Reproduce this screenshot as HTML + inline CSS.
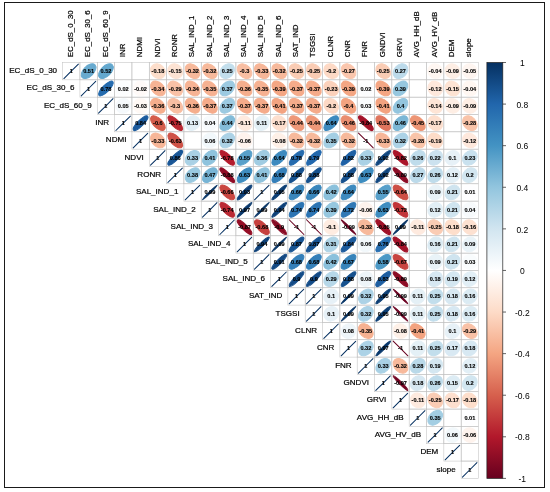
<!DOCTYPE html>
<html><head><meta charset="utf-8"><title>Correlation plot</title>
<style>html,body{margin:0;padding:0;background:#fff}svg{display:block}svg text{font-family:"Liberation Sans",sans-serif}</style></head>
<body>
<svg width="550" height="492" viewBox="0 0 550 492">
<rect x="0" y="0" width="550" height="492" fill="#fff"/>
<rect x="4.5" y="2.5" width="540" height="485" fill="none" stroke="#1a1a1a" stroke-width="1"/>
<g fill="none" stroke="#c2c2c2" stroke-width="0.55"><rect x="62.60" y="62.50" width="17.33" height="17.33"/><rect x="79.93" y="62.50" width="17.33" height="17.33"/><rect x="97.26" y="62.50" width="17.33" height="17.33"/><rect x="114.59" y="62.50" width="17.33" height="17.33"/><rect x="131.92" y="62.50" width="17.33" height="17.33"/><rect x="149.25" y="62.50" width="17.33" height="17.33"/><rect x="166.57" y="62.50" width="17.33" height="17.33"/><rect x="183.90" y="62.50" width="17.33" height="17.33"/><rect x="201.23" y="62.50" width="17.33" height="17.33"/><rect x="218.56" y="62.50" width="17.33" height="17.33"/><rect x="235.89" y="62.50" width="17.33" height="17.33"/><rect x="253.22" y="62.50" width="17.33" height="17.33"/><rect x="270.55" y="62.50" width="17.33" height="17.33"/><rect x="287.88" y="62.50" width="17.33" height="17.33"/><rect x="305.21" y="62.50" width="17.33" height="17.33"/><rect x="322.54" y="62.50" width="17.33" height="17.33"/><rect x="339.87" y="62.50" width="17.33" height="17.33"/><rect x="357.20" y="62.50" width="17.33" height="17.33"/><rect x="374.52" y="62.50" width="17.33" height="17.33"/><rect x="391.85" y="62.50" width="17.33" height="17.33"/><rect x="409.18" y="62.50" width="17.33" height="17.33"/><rect x="426.51" y="62.50" width="17.33" height="17.33"/><rect x="443.84" y="62.50" width="17.33" height="17.33"/><rect x="461.17" y="62.50" width="17.33" height="17.33"/><rect x="79.93" y="79.83" width="17.33" height="17.33"/><rect x="97.26" y="79.83" width="17.33" height="17.33"/><rect x="114.59" y="79.83" width="17.33" height="17.33"/><rect x="131.92" y="79.83" width="17.33" height="17.33"/><rect x="149.25" y="79.83" width="17.33" height="17.33"/><rect x="166.57" y="79.83" width="17.33" height="17.33"/><rect x="183.90" y="79.83" width="17.33" height="17.33"/><rect x="201.23" y="79.83" width="17.33" height="17.33"/><rect x="218.56" y="79.83" width="17.33" height="17.33"/><rect x="235.89" y="79.83" width="17.33" height="17.33"/><rect x="253.22" y="79.83" width="17.33" height="17.33"/><rect x="270.55" y="79.83" width="17.33" height="17.33"/><rect x="287.88" y="79.83" width="17.33" height="17.33"/><rect x="305.21" y="79.83" width="17.33" height="17.33"/><rect x="322.54" y="79.83" width="17.33" height="17.33"/><rect x="339.87" y="79.83" width="17.33" height="17.33"/><rect x="357.20" y="79.83" width="17.33" height="17.33"/><rect x="374.52" y="79.83" width="17.33" height="17.33"/><rect x="391.85" y="79.83" width="17.33" height="17.33"/><rect x="409.18" y="79.83" width="17.33" height="17.33"/><rect x="426.51" y="79.83" width="17.33" height="17.33"/><rect x="443.84" y="79.83" width="17.33" height="17.33"/><rect x="461.17" y="79.83" width="17.33" height="17.33"/><rect x="97.26" y="97.16" width="17.33" height="17.33"/><rect x="114.59" y="97.16" width="17.33" height="17.33"/><rect x="131.92" y="97.16" width="17.33" height="17.33"/><rect x="149.25" y="97.16" width="17.33" height="17.33"/><rect x="166.57" y="97.16" width="17.33" height="17.33"/><rect x="183.90" y="97.16" width="17.33" height="17.33"/><rect x="201.23" y="97.16" width="17.33" height="17.33"/><rect x="218.56" y="97.16" width="17.33" height="17.33"/><rect x="235.89" y="97.16" width="17.33" height="17.33"/><rect x="253.22" y="97.16" width="17.33" height="17.33"/><rect x="270.55" y="97.16" width="17.33" height="17.33"/><rect x="287.88" y="97.16" width="17.33" height="17.33"/><rect x="305.21" y="97.16" width="17.33" height="17.33"/><rect x="322.54" y="97.16" width="17.33" height="17.33"/><rect x="339.87" y="97.16" width="17.33" height="17.33"/><rect x="357.20" y="97.16" width="17.33" height="17.33"/><rect x="374.52" y="97.16" width="17.33" height="17.33"/><rect x="391.85" y="97.16" width="17.33" height="17.33"/><rect x="409.18" y="97.16" width="17.33" height="17.33"/><rect x="426.51" y="97.16" width="17.33" height="17.33"/><rect x="443.84" y="97.16" width="17.33" height="17.33"/><rect x="461.17" y="97.16" width="17.33" height="17.33"/><rect x="114.59" y="114.49" width="17.33" height="17.33"/><rect x="131.92" y="114.49" width="17.33" height="17.33"/><rect x="149.25" y="114.49" width="17.33" height="17.33"/><rect x="166.57" y="114.49" width="17.33" height="17.33"/><rect x="183.90" y="114.49" width="17.33" height="17.33"/><rect x="201.23" y="114.49" width="17.33" height="17.33"/><rect x="218.56" y="114.49" width="17.33" height="17.33"/><rect x="235.89" y="114.49" width="17.33" height="17.33"/><rect x="253.22" y="114.49" width="17.33" height="17.33"/><rect x="270.55" y="114.49" width="17.33" height="17.33"/><rect x="287.88" y="114.49" width="17.33" height="17.33"/><rect x="305.21" y="114.49" width="17.33" height="17.33"/><rect x="322.54" y="114.49" width="17.33" height="17.33"/><rect x="339.87" y="114.49" width="17.33" height="17.33"/><rect x="357.20" y="114.49" width="17.33" height="17.33"/><rect x="374.52" y="114.49" width="17.33" height="17.33"/><rect x="391.85" y="114.49" width="17.33" height="17.33"/><rect x="409.18" y="114.49" width="17.33" height="17.33"/><rect x="426.51" y="114.49" width="17.33" height="17.33"/><rect x="443.84" y="114.49" width="17.33" height="17.33"/><rect x="461.17" y="114.49" width="17.33" height="17.33"/><rect x="131.92" y="131.82" width="17.33" height="17.33"/><rect x="149.25" y="131.82" width="17.33" height="17.33"/><rect x="166.57" y="131.82" width="17.33" height="17.33"/><rect x="183.90" y="131.82" width="17.33" height="17.33"/><rect x="201.23" y="131.82" width="17.33" height="17.33"/><rect x="218.56" y="131.82" width="17.33" height="17.33"/><rect x="235.89" y="131.82" width="17.33" height="17.33"/><rect x="253.22" y="131.82" width="17.33" height="17.33"/><rect x="270.55" y="131.82" width="17.33" height="17.33"/><rect x="287.88" y="131.82" width="17.33" height="17.33"/><rect x="305.21" y="131.82" width="17.33" height="17.33"/><rect x="322.54" y="131.82" width="17.33" height="17.33"/><rect x="339.87" y="131.82" width="17.33" height="17.33"/><rect x="357.20" y="131.82" width="17.33" height="17.33"/><rect x="374.52" y="131.82" width="17.33" height="17.33"/><rect x="391.85" y="131.82" width="17.33" height="17.33"/><rect x="409.18" y="131.82" width="17.33" height="17.33"/><rect x="426.51" y="131.82" width="17.33" height="17.33"/><rect x="443.84" y="131.82" width="17.33" height="17.33"/><rect x="461.17" y="131.82" width="17.33" height="17.33"/><rect x="149.25" y="149.15" width="17.33" height="17.33"/><rect x="166.57" y="149.15" width="17.33" height="17.33"/><rect x="183.90" y="149.15" width="17.33" height="17.33"/><rect x="201.23" y="149.15" width="17.33" height="17.33"/><rect x="218.56" y="149.15" width="17.33" height="17.33"/><rect x="235.89" y="149.15" width="17.33" height="17.33"/><rect x="253.22" y="149.15" width="17.33" height="17.33"/><rect x="270.55" y="149.15" width="17.33" height="17.33"/><rect x="287.88" y="149.15" width="17.33" height="17.33"/><rect x="305.21" y="149.15" width="17.33" height="17.33"/><rect x="322.54" y="149.15" width="17.33" height="17.33"/><rect x="339.87" y="149.15" width="17.33" height="17.33"/><rect x="357.20" y="149.15" width="17.33" height="17.33"/><rect x="374.52" y="149.15" width="17.33" height="17.33"/><rect x="391.85" y="149.15" width="17.33" height="17.33"/><rect x="409.18" y="149.15" width="17.33" height="17.33"/><rect x="426.51" y="149.15" width="17.33" height="17.33"/><rect x="443.84" y="149.15" width="17.33" height="17.33"/><rect x="461.17" y="149.15" width="17.33" height="17.33"/><rect x="166.57" y="166.47" width="17.33" height="17.33"/><rect x="183.90" y="166.47" width="17.33" height="17.33"/><rect x="201.23" y="166.47" width="17.33" height="17.33"/><rect x="218.56" y="166.47" width="17.33" height="17.33"/><rect x="235.89" y="166.47" width="17.33" height="17.33"/><rect x="253.22" y="166.47" width="17.33" height="17.33"/><rect x="270.55" y="166.47" width="17.33" height="17.33"/><rect x="287.88" y="166.47" width="17.33" height="17.33"/><rect x="305.21" y="166.47" width="17.33" height="17.33"/><rect x="322.54" y="166.47" width="17.33" height="17.33"/><rect x="339.87" y="166.47" width="17.33" height="17.33"/><rect x="357.20" y="166.47" width="17.33" height="17.33"/><rect x="374.52" y="166.47" width="17.33" height="17.33"/><rect x="391.85" y="166.47" width="17.33" height="17.33"/><rect x="409.18" y="166.47" width="17.33" height="17.33"/><rect x="426.51" y="166.47" width="17.33" height="17.33"/><rect x="443.84" y="166.47" width="17.33" height="17.33"/><rect x="461.17" y="166.47" width="17.33" height="17.33"/><rect x="183.90" y="183.80" width="17.33" height="17.33"/><rect x="201.23" y="183.80" width="17.33" height="17.33"/><rect x="218.56" y="183.80" width="17.33" height="17.33"/><rect x="235.89" y="183.80" width="17.33" height="17.33"/><rect x="253.22" y="183.80" width="17.33" height="17.33"/><rect x="270.55" y="183.80" width="17.33" height="17.33"/><rect x="287.88" y="183.80" width="17.33" height="17.33"/><rect x="305.21" y="183.80" width="17.33" height="17.33"/><rect x="322.54" y="183.80" width="17.33" height="17.33"/><rect x="339.87" y="183.80" width="17.33" height="17.33"/><rect x="357.20" y="183.80" width="17.33" height="17.33"/><rect x="374.52" y="183.80" width="17.33" height="17.33"/><rect x="391.85" y="183.80" width="17.33" height="17.33"/><rect x="409.18" y="183.80" width="17.33" height="17.33"/><rect x="426.51" y="183.80" width="17.33" height="17.33"/><rect x="443.84" y="183.80" width="17.33" height="17.33"/><rect x="461.17" y="183.80" width="17.33" height="17.33"/><rect x="201.23" y="201.13" width="17.33" height="17.33"/><rect x="218.56" y="201.13" width="17.33" height="17.33"/><rect x="235.89" y="201.13" width="17.33" height="17.33"/><rect x="253.22" y="201.13" width="17.33" height="17.33"/><rect x="270.55" y="201.13" width="17.33" height="17.33"/><rect x="287.88" y="201.13" width="17.33" height="17.33"/><rect x="305.21" y="201.13" width="17.33" height="17.33"/><rect x="322.54" y="201.13" width="17.33" height="17.33"/><rect x="339.87" y="201.13" width="17.33" height="17.33"/><rect x="357.20" y="201.13" width="17.33" height="17.33"/><rect x="374.52" y="201.13" width="17.33" height="17.33"/><rect x="391.85" y="201.13" width="17.33" height="17.33"/><rect x="409.18" y="201.13" width="17.33" height="17.33"/><rect x="426.51" y="201.13" width="17.33" height="17.33"/><rect x="443.84" y="201.13" width="17.33" height="17.33"/><rect x="461.17" y="201.13" width="17.33" height="17.33"/><rect x="218.56" y="218.46" width="17.33" height="17.33"/><rect x="235.89" y="218.46" width="17.33" height="17.33"/><rect x="253.22" y="218.46" width="17.33" height="17.33"/><rect x="270.55" y="218.46" width="17.33" height="17.33"/><rect x="287.88" y="218.46" width="17.33" height="17.33"/><rect x="305.21" y="218.46" width="17.33" height="17.33"/><rect x="322.54" y="218.46" width="17.33" height="17.33"/><rect x="339.87" y="218.46" width="17.33" height="17.33"/><rect x="357.20" y="218.46" width="17.33" height="17.33"/><rect x="374.52" y="218.46" width="17.33" height="17.33"/><rect x="391.85" y="218.46" width="17.33" height="17.33"/><rect x="409.18" y="218.46" width="17.33" height="17.33"/><rect x="426.51" y="218.46" width="17.33" height="17.33"/><rect x="443.84" y="218.46" width="17.33" height="17.33"/><rect x="461.17" y="218.46" width="17.33" height="17.33"/><rect x="235.89" y="235.79" width="17.33" height="17.33"/><rect x="253.22" y="235.79" width="17.33" height="17.33"/><rect x="270.55" y="235.79" width="17.33" height="17.33"/><rect x="287.88" y="235.79" width="17.33" height="17.33"/><rect x="305.21" y="235.79" width="17.33" height="17.33"/><rect x="322.54" y="235.79" width="17.33" height="17.33"/><rect x="339.87" y="235.79" width="17.33" height="17.33"/><rect x="357.20" y="235.79" width="17.33" height="17.33"/><rect x="374.52" y="235.79" width="17.33" height="17.33"/><rect x="391.85" y="235.79" width="17.33" height="17.33"/><rect x="409.18" y="235.79" width="17.33" height="17.33"/><rect x="426.51" y="235.79" width="17.33" height="17.33"/><rect x="443.84" y="235.79" width="17.33" height="17.33"/><rect x="461.17" y="235.79" width="17.33" height="17.33"/><rect x="253.22" y="253.12" width="17.33" height="17.33"/><rect x="270.55" y="253.12" width="17.33" height="17.33"/><rect x="287.88" y="253.12" width="17.33" height="17.33"/><rect x="305.21" y="253.12" width="17.33" height="17.33"/><rect x="322.54" y="253.12" width="17.33" height="17.33"/><rect x="339.87" y="253.12" width="17.33" height="17.33"/><rect x="357.20" y="253.12" width="17.33" height="17.33"/><rect x="374.52" y="253.12" width="17.33" height="17.33"/><rect x="391.85" y="253.12" width="17.33" height="17.33"/><rect x="409.18" y="253.12" width="17.33" height="17.33"/><rect x="426.51" y="253.12" width="17.33" height="17.33"/><rect x="443.84" y="253.12" width="17.33" height="17.33"/><rect x="461.17" y="253.12" width="17.33" height="17.33"/><rect x="270.55" y="270.45" width="17.33" height="17.33"/><rect x="287.88" y="270.45" width="17.33" height="17.33"/><rect x="305.21" y="270.45" width="17.33" height="17.33"/><rect x="322.54" y="270.45" width="17.33" height="17.33"/><rect x="339.87" y="270.45" width="17.33" height="17.33"/><rect x="357.20" y="270.45" width="17.33" height="17.33"/><rect x="374.52" y="270.45" width="17.33" height="17.33"/><rect x="391.85" y="270.45" width="17.33" height="17.33"/><rect x="409.18" y="270.45" width="17.33" height="17.33"/><rect x="426.51" y="270.45" width="17.33" height="17.33"/><rect x="443.84" y="270.45" width="17.33" height="17.33"/><rect x="461.17" y="270.45" width="17.33" height="17.33"/><rect x="287.88" y="287.78" width="17.33" height="17.33"/><rect x="305.21" y="287.78" width="17.33" height="17.33"/><rect x="322.54" y="287.78" width="17.33" height="17.33"/><rect x="339.87" y="287.78" width="17.33" height="17.33"/><rect x="357.20" y="287.78" width="17.33" height="17.33"/><rect x="374.52" y="287.78" width="17.33" height="17.33"/><rect x="391.85" y="287.78" width="17.33" height="17.33"/><rect x="409.18" y="287.78" width="17.33" height="17.33"/><rect x="426.51" y="287.78" width="17.33" height="17.33"/><rect x="443.84" y="287.78" width="17.33" height="17.33"/><rect x="461.17" y="287.78" width="17.33" height="17.33"/><rect x="305.21" y="305.11" width="17.33" height="17.33"/><rect x="322.54" y="305.11" width="17.33" height="17.33"/><rect x="339.87" y="305.11" width="17.33" height="17.33"/><rect x="357.20" y="305.11" width="17.33" height="17.33"/><rect x="374.52" y="305.11" width="17.33" height="17.33"/><rect x="391.85" y="305.11" width="17.33" height="17.33"/><rect x="409.18" y="305.11" width="17.33" height="17.33"/><rect x="426.51" y="305.11" width="17.33" height="17.33"/><rect x="443.84" y="305.11" width="17.33" height="17.33"/><rect x="461.17" y="305.11" width="17.33" height="17.33"/><rect x="322.54" y="322.44" width="17.33" height="17.33"/><rect x="339.87" y="322.44" width="17.33" height="17.33"/><rect x="357.20" y="322.44" width="17.33" height="17.33"/><rect x="374.52" y="322.44" width="17.33" height="17.33"/><rect x="391.85" y="322.44" width="17.33" height="17.33"/><rect x="409.18" y="322.44" width="17.33" height="17.33"/><rect x="426.51" y="322.44" width="17.33" height="17.33"/><rect x="443.84" y="322.44" width="17.33" height="17.33"/><rect x="461.17" y="322.44" width="17.33" height="17.33"/><rect x="339.87" y="339.77" width="17.33" height="17.33"/><rect x="357.20" y="339.77" width="17.33" height="17.33"/><rect x="374.52" y="339.77" width="17.33" height="17.33"/><rect x="391.85" y="339.77" width="17.33" height="17.33"/><rect x="409.18" y="339.77" width="17.33" height="17.33"/><rect x="426.51" y="339.77" width="17.33" height="17.33"/><rect x="443.84" y="339.77" width="17.33" height="17.33"/><rect x="461.17" y="339.77" width="17.33" height="17.33"/><rect x="357.20" y="357.10" width="17.33" height="17.33"/><rect x="374.52" y="357.10" width="17.33" height="17.33"/><rect x="391.85" y="357.10" width="17.33" height="17.33"/><rect x="409.18" y="357.10" width="17.33" height="17.33"/><rect x="426.51" y="357.10" width="17.33" height="17.33"/><rect x="443.84" y="357.10" width="17.33" height="17.33"/><rect x="461.17" y="357.10" width="17.33" height="17.33"/><rect x="374.52" y="374.42" width="17.33" height="17.33"/><rect x="391.85" y="374.42" width="17.33" height="17.33"/><rect x="409.18" y="374.42" width="17.33" height="17.33"/><rect x="426.51" y="374.42" width="17.33" height="17.33"/><rect x="443.84" y="374.42" width="17.33" height="17.33"/><rect x="461.17" y="374.42" width="17.33" height="17.33"/><rect x="391.85" y="391.75" width="17.33" height="17.33"/><rect x="409.18" y="391.75" width="17.33" height="17.33"/><rect x="426.51" y="391.75" width="17.33" height="17.33"/><rect x="443.84" y="391.75" width="17.33" height="17.33"/><rect x="461.17" y="391.75" width="17.33" height="17.33"/><rect x="409.18" y="409.08" width="17.33" height="17.33"/><rect x="426.51" y="409.08" width="17.33" height="17.33"/><rect x="443.84" y="409.08" width="17.33" height="17.33"/><rect x="461.17" y="409.08" width="17.33" height="17.33"/><rect x="426.51" y="426.41" width="17.33" height="17.33"/><rect x="443.84" y="426.41" width="17.33" height="17.33"/><rect x="461.17" y="426.41" width="17.33" height="17.33"/><rect x="443.84" y="443.74" width="17.33" height="17.33"/><rect x="461.17" y="443.74" width="17.33" height="17.33"/><rect x="461.17" y="461.07" width="17.33" height="17.33"/></g>
<g stroke-width="1"><ellipse cx="71.26" cy="71.16" rx="10.42" ry="0.01" transform="rotate(-45 71.26 71.16)" fill="#053061" stroke="#053061"/><ellipse cx="88.59" cy="71.16" rx="9.05" ry="5.16" transform="rotate(-45 88.59 71.16)" fill="#68aacf" stroke="#68aacf"/><ellipse cx="105.92" cy="71.16" rx="9.08" ry="5.10" transform="rotate(-45 105.92 71.16)" fill="#64a8ce" stroke="#64a8ce"/><ellipse cx="157.91" cy="71.16" rx="6.67" ry="8.00" transform="rotate(-45 157.91 71.16)" fill="#fddecb" stroke="#fddecb"/><ellipse cx="175.24" cy="71.16" rx="6.79" ry="7.90" transform="rotate(-45 175.24 71.16)" fill="#fde3d3" stroke="#fde3d3"/><ellipse cx="192.57" cy="71.16" rx="6.07" ry="8.46" transform="rotate(-45 192.57 71.16)" fill="#f7b99b" stroke="#f7b99b"/><ellipse cx="209.90" cy="71.16" rx="6.07" ry="8.46" transform="rotate(-45 209.90 71.16)" fill="#f7b99b" stroke="#f7b99b"/><ellipse cx="227.23" cy="71.16" rx="8.23" ry="6.38" transform="rotate(-45 227.23 71.16)" fill="#c2deec" stroke="#c2deec"/><ellipse cx="244.56" cy="71.16" rx="6.16" ry="8.40" transform="rotate(-45 244.56 71.16)" fill="#f8bea2" stroke="#f8bea2"/><ellipse cx="261.89" cy="71.16" rx="6.03" ry="8.49" transform="rotate(-45 261.89 71.16)" fill="#f7b698" stroke="#f7b698"/><ellipse cx="279.21" cy="71.16" rx="6.07" ry="8.46" transform="rotate(-45 279.21 71.16)" fill="#f7b99b" stroke="#f7b99b"/><ellipse cx="296.54" cy="71.16" rx="6.38" ry="8.23" transform="rotate(-45 296.54 71.16)" fill="#faccb4" stroke="#faccb4"/><ellipse cx="313.87" cy="71.16" rx="6.38" ry="8.23" transform="rotate(-45 313.87 71.16)" fill="#faccb4" stroke="#faccb4"/><ellipse cx="331.20" cy="71.16" rx="6.59" ry="8.07" transform="rotate(-45 331.20 71.16)" fill="#fdd9c5" stroke="#fdd9c5"/><ellipse cx="348.53" cy="71.16" rx="6.29" ry="8.30" transform="rotate(-45 348.53 71.16)" fill="#fac6ad" stroke="#fac6ad"/><ellipse cx="383.19" cy="71.16" rx="6.38" ry="8.23" transform="rotate(-45 383.19 71.16)" fill="#faccb4" stroke="#faccb4"/><ellipse cx="400.52" cy="71.16" rx="8.30" ry="6.29" transform="rotate(-45 400.52 71.16)" fill="#bcdaea" stroke="#bcdaea"/><ellipse cx="435.18" cy="71.16" rx="7.22" ry="7.51" transform="rotate(-45 435.18 71.16)" fill="#fff7f2" stroke="#fff7f2"/><ellipse cx="452.51" cy="71.16" rx="7.03" ry="7.69" transform="rotate(-45 452.51 71.16)" fill="#feeee4" stroke="#feeee4"/><ellipse cx="469.84" cy="71.16" rx="7.18" ry="7.55" transform="rotate(-45 469.84 71.16)" fill="#fef5f0" stroke="#fef5f0"/><ellipse cx="88.59" cy="88.49" rx="10.42" ry="0.01" transform="rotate(-45 88.59 88.49)" fill="#053061" stroke="#053061"/><ellipse cx="105.92" cy="88.49" rx="9.83" ry="3.45" transform="rotate(-45 105.92 88.49)" fill="#256bae" stroke="#256bae"/><ellipse cx="123.25" cy="88.49" rx="7.44" ry="7.29" transform="rotate(-45 123.25 88.49)" fill="#fcfdfe" stroke="#fcfdfe"/><ellipse cx="140.58" cy="88.49" rx="7.29" ry="7.44" transform="rotate(-45 140.58 88.49)" fill="#fffaf8" stroke="#fffaf8"/><ellipse cx="157.91" cy="88.49" rx="5.98" ry="8.53" transform="rotate(-45 157.91 88.49)" fill="#f6b394" stroke="#f6b394"/><ellipse cx="175.24" cy="88.49" rx="6.21" ry="8.36" transform="rotate(-45 175.24 88.49)" fill="#f9c1a6" stroke="#f9c1a6"/><ellipse cx="192.57" cy="88.49" rx="5.98" ry="8.53" transform="rotate(-45 192.57 88.49)" fill="#f6b394" stroke="#f6b394"/><ellipse cx="209.90" cy="88.49" rx="5.94" ry="8.56" transform="rotate(-45 209.90 88.49)" fill="#f6b191" stroke="#f6b191"/><ellipse cx="227.23" cy="88.49" rx="8.62" ry="5.85" transform="rotate(-45 227.23 88.49)" fill="#9ccae1" stroke="#9ccae1"/><ellipse cx="244.56" cy="88.49" rx="5.89" ry="8.59" transform="rotate(-45 244.56 88.49)" fill="#f5ae8d" stroke="#f5ae8d"/><ellipse cx="261.89" cy="88.49" rx="5.94" ry="8.56" transform="rotate(-45 261.89 88.49)" fill="#f6b191" stroke="#f6b191"/><ellipse cx="279.21" cy="88.49" rx="5.75" ry="8.68" transform="rotate(-45 279.21 88.49)" fill="#f4a683" stroke="#f4a683"/><ellipse cx="296.54" cy="88.49" rx="5.85" ry="8.62" transform="rotate(-45 296.54 88.49)" fill="#f5ab8a" stroke="#f5ab8a"/><ellipse cx="313.87" cy="88.49" rx="5.85" ry="8.62" transform="rotate(-45 313.87 88.49)" fill="#f5ab8a" stroke="#f5ab8a"/><ellipse cx="331.20" cy="88.49" rx="6.46" ry="8.17" transform="rotate(-45 331.20 88.49)" fill="#fbd1bb" stroke="#fbd1bb"/><ellipse cx="348.53" cy="88.49" rx="5.75" ry="8.68" transform="rotate(-45 348.53 88.49)" fill="#f4a683" stroke="#f4a683"/><ellipse cx="365.86" cy="88.49" rx="7.44" ry="7.29" transform="rotate(-45 365.86 88.49)" fill="#fcfdfe" stroke="#fcfdfe"/><ellipse cx="383.19" cy="88.49" rx="5.75" ry="8.68" transform="rotate(-45 383.19 88.49)" fill="#f4a683" stroke="#f4a683"/><ellipse cx="400.52" cy="88.49" rx="8.68" ry="5.75" transform="rotate(-45 400.52 88.49)" fill="#96c7df" stroke="#96c7df"/><ellipse cx="435.18" cy="88.49" rx="6.91" ry="7.79" transform="rotate(-45 435.18 88.49)" fill="#fee8dc" stroke="#fee8dc"/><ellipse cx="452.51" cy="88.49" rx="6.79" ry="7.90" transform="rotate(-45 452.51 88.49)" fill="#fde3d3" stroke="#fde3d3"/><ellipse cx="469.84" cy="88.49" rx="7.22" ry="7.51" transform="rotate(-45 469.84 88.49)" fill="#fff7f2" stroke="#fff7f2"/><ellipse cx="105.92" cy="105.82" rx="10.42" ry="0.01" transform="rotate(-45 105.92 105.82)" fill="#053061" stroke="#053061"/><ellipse cx="123.25" cy="105.82" rx="7.55" ry="7.18" transform="rotate(-45 123.25 105.82)" fill="#f5f9fc" stroke="#f5f9fc"/><ellipse cx="140.58" cy="105.82" rx="7.25" ry="7.47" transform="rotate(-45 140.58 105.82)" fill="#fff9f5" stroke="#fff9f5"/><ellipse cx="157.91" cy="105.82" rx="5.89" ry="8.59" transform="rotate(-45 157.91 105.82)" fill="#f5ae8d" stroke="#f5ae8d"/><ellipse cx="175.24" cy="105.82" rx="6.16" ry="8.40" transform="rotate(-45 175.24 105.82)" fill="#f8bea2" stroke="#f8bea2"/><ellipse cx="192.57" cy="105.82" rx="5.89" ry="8.59" transform="rotate(-45 192.57 105.82)" fill="#f5ae8d" stroke="#f5ae8d"/><ellipse cx="209.90" cy="105.82" rx="5.85" ry="8.62" transform="rotate(-45 209.90 105.82)" fill="#f5ab8a" stroke="#f5ab8a"/><ellipse cx="227.23" cy="105.82" rx="8.62" ry="5.85" transform="rotate(-45 227.23 105.82)" fill="#9ccae1" stroke="#9ccae1"/><ellipse cx="244.56" cy="105.82" rx="5.85" ry="8.62" transform="rotate(-45 244.56 105.82)" fill="#f5ab8a" stroke="#f5ab8a"/><ellipse cx="261.89" cy="105.82" rx="5.85" ry="8.62" transform="rotate(-45 261.89 105.82)" fill="#f5ab8a" stroke="#f5ab8a"/><ellipse cx="279.21" cy="105.82" rx="5.66" ry="8.75" transform="rotate(-45 279.21 105.82)" fill="#f3a380" stroke="#f3a380"/><ellipse cx="296.54" cy="105.82" rx="5.85" ry="8.62" transform="rotate(-45 296.54 105.82)" fill="#f5ab8a" stroke="#f5ab8a"/><ellipse cx="313.87" cy="105.82" rx="5.85" ry="8.62" transform="rotate(-45 313.87 105.82)" fill="#f5ab8a" stroke="#f5ab8a"/><ellipse cx="331.20" cy="105.82" rx="6.59" ry="8.07" transform="rotate(-45 331.20 105.82)" fill="#fdd9c5" stroke="#fdd9c5"/><ellipse cx="348.53" cy="105.82" rx="5.70" ry="8.71" transform="rotate(-45 348.53 105.82)" fill="#f3a380" stroke="#f3a380"/><ellipse cx="365.86" cy="105.82" rx="7.47" ry="7.25" transform="rotate(-45 365.86 105.82)" fill="#f9fcfd" stroke="#f9fcfd"/><ellipse cx="383.19" cy="105.82" rx="5.66" ry="8.75" transform="rotate(-45 383.19 105.82)" fill="#f3a380" stroke="#f3a380"/><ellipse cx="400.52" cy="105.82" rx="8.71" ry="5.70" transform="rotate(-45 400.52 105.82)" fill="#93c5de" stroke="#93c5de"/><ellipse cx="435.18" cy="105.82" rx="6.83" ry="7.86" transform="rotate(-45 435.18 105.82)" fill="#fee5d6" stroke="#fee5d6"/><ellipse cx="452.51" cy="105.82" rx="7.03" ry="7.69" transform="rotate(-45 452.51 105.82)" fill="#feeee4" stroke="#feeee4"/><ellipse cx="469.84" cy="105.82" rx="7.03" ry="7.69" transform="rotate(-45 469.84 105.82)" fill="#feeee4" stroke="#feeee4"/><ellipse cx="123.25" cy="123.15" rx="10.42" ry="0.01" transform="rotate(-45 123.25 123.15)" fill="#053061" stroke="#053061"/><ellipse cx="140.58" cy="123.15" rx="9.99" ry="2.95" transform="rotate(-45 140.58 123.15)" fill="#1c5b9d" stroke="#1c5b9d"/><ellipse cx="157.91" cy="123.15" rx="4.66" ry="9.32" transform="rotate(-45 157.91 123.15)" fill="#d55d4c" stroke="#d55d4c"/><ellipse cx="175.24" cy="123.15" rx="3.68" ry="9.74" transform="rotate(-45 175.24 123.15)" fill="#b92732" stroke="#b92732"/><ellipse cx="192.57" cy="123.15" rx="7.83" ry="6.87" transform="rotate(-45 192.57 123.15)" fill="#e2eff6" stroke="#e2eff6"/><ellipse cx="209.90" cy="123.15" rx="7.51" ry="7.22" transform="rotate(-45 209.90 123.15)" fill="#f7fafc" stroke="#f7fafc"/><ellipse cx="227.23" cy="123.15" rx="8.84" ry="5.51" transform="rotate(-45 227.23 123.15)" fill="#83bcd9" stroke="#83bcd9"/><ellipse cx="244.56" cy="123.15" rx="6.95" ry="7.76" transform="rotate(-45 244.56 123.15)" fill="#feeadf" stroke="#feeadf"/><ellipse cx="261.89" cy="123.15" rx="7.76" ry="6.95" transform="rotate(-45 261.89 123.15)" fill="#e4f0f6" stroke="#e4f0f6"/><ellipse cx="279.21" cy="123.15" rx="6.71" ry="7.97" transform="rotate(-45 279.21 123.15)" fill="#fddfce" stroke="#fddfce"/><ellipse cx="296.54" cy="123.15" rx="5.51" ry="8.84" transform="rotate(-45 296.54 123.15)" fill="#ee9878" stroke="#ee9878"/><ellipse cx="313.87" cy="123.15" rx="5.51" ry="8.84" transform="rotate(-45 313.87 123.15)" fill="#ee9878" stroke="#ee9878"/><ellipse cx="331.20" cy="123.15" rx="9.43" ry="4.42" transform="rotate(-45 331.20 123.15)" fill="#3d8abf" stroke="#3d8abf"/><ellipse cx="348.53" cy="123.15" rx="5.41" ry="8.90" transform="rotate(-45 348.53 123.15)" fill="#ea8e70" stroke="#ea8e70"/><ellipse cx="365.86" cy="123.15" rx="2.95" ry="9.99" transform="rotate(-45 365.86 123.15)" fill="#a31329" stroke="#a31329"/><ellipse cx="383.19" cy="123.15" rx="5.05" ry="9.11" transform="rotate(-45 383.19 123.15)" fill="#df755e" stroke="#df755e"/><ellipse cx="400.52" cy="123.15" rx="8.90" ry="5.41" transform="rotate(-45 400.52 123.15)" fill="#7bb7d6" stroke="#7bb7d6"/><ellipse cx="417.85" cy="123.15" rx="5.46" ry="8.87" transform="rotate(-45 417.85 123.15)" fill="#ed9575" stroke="#ed9575"/><ellipse cx="435.18" cy="123.15" rx="6.71" ry="7.97" transform="rotate(-45 435.18 123.15)" fill="#fddfce" stroke="#fddfce"/><ellipse cx="469.84" cy="123.15" rx="6.25" ry="8.33" transform="rotate(-45 469.84 123.15)" fill="#f9c4a9" stroke="#f9c4a9"/><ellipse cx="140.58" cy="140.48" rx="10.42" ry="0.01" transform="rotate(-45 140.58 140.48)" fill="#053061" stroke="#053061"/><ellipse cx="157.91" cy="140.48" rx="6.03" ry="8.49" transform="rotate(-45 157.91 140.48)" fill="#f7b698" stroke="#f7b698"/><ellipse cx="175.24" cy="140.48" rx="4.48" ry="9.40" transform="rotate(-45 175.24 140.48)" fill="#cf5247" stroke="#cf5247"/><ellipse cx="209.90" cy="140.48" rx="7.58" ry="7.14" transform="rotate(-45 209.90 140.48)" fill="#f2f8fb" stroke="#f2f8fb"/><ellipse cx="227.23" cy="140.48" rx="8.46" ry="6.07" transform="rotate(-45 227.23 140.48)" fill="#acd2e6" stroke="#acd2e6"/><ellipse cx="244.56" cy="140.48" rx="7.14" ry="7.58" transform="rotate(-45 244.56 140.48)" fill="#fef3ed" stroke="#fef3ed"/><ellipse cx="279.21" cy="140.48" rx="7.06" ry="7.65" transform="rotate(-45 279.21 140.48)" fill="#fef0e7" stroke="#fef0e7"/><ellipse cx="296.54" cy="140.48" rx="6.07" ry="8.46" transform="rotate(-45 296.54 140.48)" fill="#f7b99b" stroke="#f7b99b"/><ellipse cx="313.87" cy="140.48" rx="6.07" ry="8.46" transform="rotate(-45 313.87 140.48)" fill="#f7b99b" stroke="#f7b99b"/><ellipse cx="331.20" cy="140.48" rx="8.56" ry="5.94" transform="rotate(-45 331.20 140.48)" fill="#a3cee3" stroke="#a3cee3"/><ellipse cx="348.53" cy="140.48" rx="6.07" ry="8.46" transform="rotate(-45 348.53 140.48)" fill="#f7b99b" stroke="#f7b99b"/><ellipse cx="365.86" cy="140.48" rx="0.01" ry="10.42" transform="rotate(-45 365.86 140.48)" fill="#67001f" stroke="#67001f"/><ellipse cx="383.19" cy="140.48" rx="6.03" ry="8.49" transform="rotate(-45 383.19 140.48)" fill="#f7b698" stroke="#f7b698"/><ellipse cx="400.52" cy="140.48" rx="8.46" ry="6.07" transform="rotate(-45 400.52 140.48)" fill="#acd2e6" stroke="#acd2e6"/><ellipse cx="417.85" cy="140.48" rx="6.25" ry="8.33" transform="rotate(-45 417.85 140.48)" fill="#f9c4a9" stroke="#f9c4a9"/><ellipse cx="435.18" cy="140.48" rx="6.63" ry="8.03" transform="rotate(-45 435.18 140.48)" fill="#fddcc8" stroke="#fddcc8"/><ellipse cx="469.84" cy="140.48" rx="6.91" ry="7.79" transform="rotate(-45 469.84 140.48)" fill="#fee8dc" stroke="#fee8dc"/><ellipse cx="157.91" cy="157.81" rx="10.42" ry="0.01" transform="rotate(-45 157.91 157.81)" fill="#053061" stroke="#053061"/><ellipse cx="175.24" cy="157.81" rx="10.04" ry="2.76" transform="rotate(-45 175.24 157.81)" fill="#195696" stroke="#195696"/><ellipse cx="192.57" cy="157.81" rx="8.49" ry="6.03" transform="rotate(-45 192.57 157.81)" fill="#a9d1e5" stroke="#a9d1e5"/><ellipse cx="209.90" cy="157.81" rx="8.75" ry="5.66" transform="rotate(-45 209.90 157.81)" fill="#8fc3dd" stroke="#8fc3dd"/><ellipse cx="227.23" cy="157.81" rx="3.45" ry="9.83" transform="rotate(-45 227.23 157.81)" fill="#b41c2d" stroke="#b41c2d"/><ellipse cx="244.56" cy="157.81" rx="9.17" ry="4.94" transform="rotate(-45 244.56 157.81)" fill="#58a0ca" stroke="#58a0ca"/><ellipse cx="261.89" cy="157.81" rx="8.59" ry="5.89" transform="rotate(-45 261.89 157.81)" fill="#a0cce2" stroke="#a0cce2"/><ellipse cx="279.21" cy="157.81" rx="9.43" ry="4.42" transform="rotate(-45 279.21 157.81)" fill="#3d8abf" stroke="#3d8abf"/><ellipse cx="296.54" cy="157.81" rx="9.83" ry="3.45" transform="rotate(-45 296.54 157.81)" fill="#256bae" stroke="#256bae"/><ellipse cx="313.87" cy="157.81" rx="9.85" ry="3.38" transform="rotate(-45 313.87 157.81)" fill="#2368ad" stroke="#2368ad"/><ellipse cx="348.53" cy="157.81" rx="9.94" ry="3.12" transform="rotate(-45 348.53 157.81)" fill="#1e61a5" stroke="#1e61a5"/><ellipse cx="365.86" cy="157.81" rx="8.49" ry="6.03" transform="rotate(-45 365.86 157.81)" fill="#a9d1e5" stroke="#a9d1e5"/><ellipse cx="383.19" cy="157.81" rx="10.21" ry="2.08" transform="rotate(-45 383.19 157.81)" fill="#10467f" stroke="#10467f"/><ellipse cx="400.52" cy="157.81" rx="3.12" ry="9.94" transform="rotate(-45 400.52 157.81)" fill="#ab162a" stroke="#ab162a"/><ellipse cx="417.85" cy="157.81" rx="8.27" ry="6.34" transform="rotate(-45 417.85 157.81)" fill="#bfdceb" stroke="#bfdceb"/><ellipse cx="435.18" cy="157.81" rx="8.13" ry="6.50" transform="rotate(-45 435.18 157.81)" fill="#cce2ef" stroke="#cce2ef"/><ellipse cx="452.51" cy="157.81" rx="7.72" ry="6.99" transform="rotate(-45 452.51 157.81)" fill="#e7f1f7" stroke="#e7f1f7"/><ellipse cx="469.84" cy="157.81" rx="8.17" ry="6.46" transform="rotate(-45 469.84 157.81)" fill="#c9e1ee" stroke="#c9e1ee"/><ellipse cx="175.24" cy="175.14" rx="10.42" ry="0.01" transform="rotate(-45 175.24 175.14)" fill="#053061" stroke="#053061"/><ellipse cx="192.57" cy="175.14" rx="8.65" ry="5.80" transform="rotate(-45 192.57 175.14)" fill="#99c9e0" stroke="#99c9e0"/><ellipse cx="209.90" cy="175.14" rx="8.93" ry="5.36" transform="rotate(-45 209.90 175.14)" fill="#77b4d5" stroke="#77b4d5"/><ellipse cx="227.23" cy="175.14" rx="2.55" ry="10.10" transform="rotate(-45 227.23 175.14)" fill="#900d26" stroke="#900d26"/><ellipse cx="244.56" cy="175.14" rx="9.40" ry="4.48" transform="rotate(-45 244.56 175.14)" fill="#3e8dc0" stroke="#3e8dc0"/><ellipse cx="261.89" cy="175.14" rx="8.75" ry="5.66" transform="rotate(-45 261.89 175.14)" fill="#8fc3dd" stroke="#8fc3dd"/><ellipse cx="279.21" cy="175.14" rx="9.55" ry="4.17" transform="rotate(-45 279.21 175.14)" fill="#347fb9" stroke="#347fb9"/><ellipse cx="296.54" cy="175.14" rx="10.10" ry="2.55" transform="rotate(-45 296.54 175.14)" fill="#16518e" stroke="#16518e"/><ellipse cx="313.87" cy="175.14" rx="10.10" ry="2.55" transform="rotate(-45 313.87 175.14)" fill="#16518e" stroke="#16518e"/><ellipse cx="348.53" cy="175.14" rx="10.10" ry="2.55" transform="rotate(-45 348.53 175.14)" fill="#16518e" stroke="#16518e"/><ellipse cx="365.86" cy="175.14" rx="9.40" ry="4.48" transform="rotate(-45 365.86 175.14)" fill="#3e8dc0" stroke="#3e8dc0"/><ellipse cx="383.19" cy="175.14" rx="10.21" ry="2.08" transform="rotate(-45 383.19 175.14)" fill="#10467f" stroke="#10467f"/><ellipse cx="400.52" cy="175.14" rx="2.44" ry="10.13" transform="rotate(-45 400.52 175.14)" fill="#8d0c25" stroke="#8d0c25"/><ellipse cx="417.85" cy="175.14" rx="8.30" ry="6.29" transform="rotate(-45 417.85 175.14)" fill="#bcdaea" stroke="#bcdaea"/><ellipse cx="435.18" cy="175.14" rx="8.27" ry="6.34" transform="rotate(-45 435.18 175.14)" fill="#bfdceb" stroke="#bfdceb"/><ellipse cx="452.51" cy="175.14" rx="7.79" ry="6.91" transform="rotate(-45 452.51 175.14)" fill="#e2eff6" stroke="#e2eff6"/><ellipse cx="469.84" cy="175.14" rx="8.07" ry="6.59" transform="rotate(-45 469.84 175.14)" fill="#d2e6f0" stroke="#d2e6f0"/><ellipse cx="192.57" cy="192.47" rx="10.42" ry="0.01" transform="rotate(-45 192.57 192.47)" fill="#053061" stroke="#053061"/><ellipse cx="209.90" cy="192.47" rx="10.39" ry="0.74" transform="rotate(-45 209.90 192.47)" fill="#063365" stroke="#063365"/><ellipse cx="227.23" cy="192.47" rx="4.29" ry="9.49" transform="rotate(-45 227.23 192.47)" fill="#ca4741" stroke="#ca4741"/><ellipse cx="244.56" cy="192.47" rx="10.23" ry="1.95" transform="rotate(-45 244.56 192.47)" fill="#0d4078" stroke="#0d4078"/><ellipse cx="261.89" cy="192.47" rx="10.42" ry="0.01" transform="rotate(-45 261.89 192.47)" fill="#053061" stroke="#053061"/><ellipse cx="279.21" cy="192.47" rx="10.28" ry="1.65" transform="rotate(-45 279.21 192.47)" fill="#0c3e74" stroke="#0c3e74"/><ellipse cx="296.54" cy="192.47" rx="9.49" ry="4.29" transform="rotate(-45 296.54 192.47)" fill="#3986bc" stroke="#3986bc"/><ellipse cx="313.87" cy="192.47" rx="9.49" ry="4.29" transform="rotate(-45 313.87 192.47)" fill="#3986bc" stroke="#3986bc"/><ellipse cx="331.20" cy="192.47" rx="8.78" ry="5.61" transform="rotate(-45 331.20 192.47)" fill="#8bc1dc" stroke="#8bc1dc"/><ellipse cx="348.53" cy="192.47" rx="9.43" ry="4.42" transform="rotate(-45 348.53 192.47)" fill="#3d8abf" stroke="#3d8abf"/><ellipse cx="383.19" cy="192.47" rx="9.17" ry="4.94" transform="rotate(-45 383.19 192.47)" fill="#58a0ca" stroke="#58a0ca"/><ellipse cx="400.52" cy="192.47" rx="4.42" ry="9.43" transform="rotate(-45 400.52 192.47)" fill="#cd4f45" stroke="#cd4f45"/><ellipse cx="435.18" cy="192.47" rx="7.69" ry="7.03" transform="rotate(-45 435.18 192.47)" fill="#e9f3f8" stroke="#e9f3f8"/><ellipse cx="452.51" cy="192.47" rx="8.10" ry="6.55" transform="rotate(-45 452.51 192.47)" fill="#cfe4ef" stroke="#cfe4ef"/><ellipse cx="469.84" cy="192.47" rx="7.40" ry="7.33" transform="rotate(-45 469.84 192.47)" fill="#fefeff" stroke="#fefeff"/><ellipse cx="209.90" cy="209.80" rx="10.42" ry="0.01" transform="rotate(-45 209.90 209.80)" fill="#053061" stroke="#053061"/><ellipse cx="227.23" cy="209.80" rx="3.76" ry="9.71" transform="rotate(-45 227.23 209.80)" fill="#bb2a34" stroke="#bb2a34"/><ellipse cx="244.56" cy="209.80" rx="10.34" ry="1.28" transform="rotate(-45 244.56 209.80)" fill="#09386c" stroke="#09386c"/><ellipse cx="261.89" cy="209.80" rx="10.39" ry="0.74" transform="rotate(-45 261.89 209.80)" fill="#063365" stroke="#063365"/><ellipse cx="279.21" cy="209.80" rx="10.26" ry="1.80" transform="rotate(-45 279.21 209.80)" fill="#0d4078" stroke="#0d4078"/><ellipse cx="296.54" cy="209.80" rx="9.71" ry="3.76" transform="rotate(-45 296.54 209.80)" fill="#2b74b3" stroke="#2b74b3"/><ellipse cx="313.87" cy="209.80" rx="9.71" ry="3.76" transform="rotate(-45 313.87 209.80)" fill="#2b74b3" stroke="#2b74b3"/><ellipse cx="331.20" cy="209.80" rx="8.68" ry="5.75" transform="rotate(-45 331.20 209.80)" fill="#96c7df" stroke="#96c7df"/><ellipse cx="348.53" cy="209.80" rx="9.66" ry="3.90" transform="rotate(-45 348.53 209.80)" fill="#2f78b5" stroke="#2f78b5"/><ellipse cx="365.86" cy="209.80" rx="7.14" ry="7.58" transform="rotate(-45 365.86 209.80)" fill="#fef3ed" stroke="#fef3ed"/><ellipse cx="383.19" cy="209.80" rx="9.40" ry="4.48" transform="rotate(-45 383.19 209.80)" fill="#3e8dc0" stroke="#3e8dc0"/><ellipse cx="400.52" cy="209.80" rx="3.90" ry="9.66" transform="rotate(-45 400.52 209.80)" fill="#c13539" stroke="#c13539"/><ellipse cx="435.18" cy="209.80" rx="7.79" ry="6.91" transform="rotate(-45 435.18 209.80)" fill="#e2eff6" stroke="#e2eff6"/><ellipse cx="452.51" cy="209.80" rx="8.10" ry="6.55" transform="rotate(-45 452.51 209.80)" fill="#cfe4ef" stroke="#cfe4ef"/><ellipse cx="469.84" cy="209.80" rx="7.51" ry="7.22" transform="rotate(-45 469.84 209.80)" fill="#f7fafc" stroke="#f7fafc"/><ellipse cx="227.23" cy="227.13" rx="10.42" ry="0.01" transform="rotate(-45 227.23 227.13)" fill="#053061" stroke="#053061"/><ellipse cx="244.56" cy="227.13" rx="2.66" ry="10.07" transform="rotate(-45 244.56 227.13)" fill="#940e26" stroke="#940e26"/><ellipse cx="261.89" cy="227.13" rx="4.17" ry="9.55" transform="rotate(-45 261.89 227.13)" fill="#c6403e" stroke="#c6403e"/><ellipse cx="279.21" cy="227.13" rx="2.33" ry="10.15" transform="rotate(-45 279.21 227.13)" fill="#890b24" stroke="#890b24"/><ellipse cx="296.54" cy="227.13" rx="0.01" ry="10.42" transform="rotate(-45 296.54 227.13)" fill="#67001f" stroke="#67001f"/><ellipse cx="313.87" cy="227.13" rx="0.01" ry="10.42" transform="rotate(-45 313.87 227.13)" fill="#67001f" stroke="#67001f"/><ellipse cx="331.20" cy="227.13" rx="6.99" ry="7.72" transform="rotate(-45 331.20 227.13)" fill="#feece1" stroke="#feece1"/><ellipse cx="348.53" cy="227.13" rx="0.74" ry="10.39" transform="rotate(-45 348.53 227.13)" fill="#6b0120" stroke="#6b0120"/><ellipse cx="365.86" cy="227.13" rx="6.07" ry="8.46" transform="rotate(-45 365.86 227.13)" fill="#f7b99b" stroke="#f7b99b"/><ellipse cx="383.19" cy="227.13" rx="2.85" ry="10.02" transform="rotate(-45 383.19 227.13)" fill="#a01228" stroke="#a01228"/><ellipse cx="400.52" cy="227.13" rx="10.39" ry="0.74" transform="rotate(-45 400.52 227.13)" fill="#063365" stroke="#063365"/><ellipse cx="417.85" cy="227.13" rx="6.95" ry="7.76" transform="rotate(-45 417.85 227.13)" fill="#feeadf" stroke="#feeadf"/><ellipse cx="435.18" cy="227.13" rx="6.38" ry="8.23" transform="rotate(-45 435.18 227.13)" fill="#faccb4" stroke="#faccb4"/><ellipse cx="452.51" cy="227.13" rx="6.67" ry="8.00" transform="rotate(-45 452.51 227.13)" fill="#fddecb" stroke="#fddecb"/><ellipse cx="469.84" cy="227.13" rx="6.75" ry="7.93" transform="rotate(-45 469.84 227.13)" fill="#fde1d1" stroke="#fde1d1"/><ellipse cx="244.56" cy="244.46" rx="10.42" ry="0.01" transform="rotate(-45 244.56 244.46)" fill="#053061" stroke="#053061"/><ellipse cx="261.89" cy="244.46" rx="10.26" ry="1.80" transform="rotate(-45 261.89 244.46)" fill="#0d4078" stroke="#0d4078"/><ellipse cx="279.21" cy="244.46" rx="10.39" ry="0.74" transform="rotate(-45 279.21 244.46)" fill="#063365" stroke="#063365"/><ellipse cx="296.54" cy="244.46" rx="10.07" ry="2.66" transform="rotate(-45 296.54 244.46)" fill="#175392" stroke="#175392"/><ellipse cx="313.87" cy="244.46" rx="10.07" ry="2.66" transform="rotate(-45 313.87 244.46)" fill="#175392" stroke="#175392"/><ellipse cx="331.20" cy="244.46" rx="8.43" ry="6.12" transform="rotate(-45 331.20 244.46)" fill="#afd4e6" stroke="#afd4e6"/><ellipse cx="348.53" cy="244.46" rx="9.99" ry="2.95" transform="rotate(-45 348.53 244.46)" fill="#1c5b9d" stroke="#1c5b9d"/><ellipse cx="365.86" cy="244.46" rx="7.58" ry="7.14" transform="rotate(-45 365.86 244.46)" fill="#f2f8fb" stroke="#f2f8fb"/><ellipse cx="383.19" cy="244.46" rx="9.77" ry="3.61" transform="rotate(-45 383.19 244.46)" fill="#286fb1" stroke="#286fb1"/><ellipse cx="400.52" cy="244.46" rx="2.95" ry="9.99" transform="rotate(-45 400.52 244.46)" fill="#a31329" stroke="#a31329"/><ellipse cx="435.18" cy="244.46" rx="7.93" ry="6.75" transform="rotate(-45 435.18 244.46)" fill="#dbebf3" stroke="#dbebf3"/><ellipse cx="452.51" cy="244.46" rx="8.10" ry="6.55" transform="rotate(-45 452.51 244.46)" fill="#cfe4ef" stroke="#cfe4ef"/><ellipse cx="469.84" cy="244.46" rx="7.69" ry="7.03" transform="rotate(-45 469.84 244.46)" fill="#e9f3f8" stroke="#e9f3f8"/><ellipse cx="261.89" cy="261.79" rx="10.42" ry="0.01" transform="rotate(-45 261.89 261.79)" fill="#053061" stroke="#053061"/><ellipse cx="279.21" cy="261.79" rx="10.18" ry="2.21" transform="rotate(-45 279.21 261.79)" fill="#124883" stroke="#124883"/><ellipse cx="296.54" cy="261.79" rx="9.55" ry="4.17" transform="rotate(-45 296.54 261.79)" fill="#347fb9" stroke="#347fb9"/><ellipse cx="313.87" cy="261.79" rx="9.55" ry="4.17" transform="rotate(-45 313.87 261.79)" fill="#347fb9" stroke="#347fb9"/><ellipse cx="331.20" cy="261.79" rx="8.78" ry="5.61" transform="rotate(-45 331.20 261.79)" fill="#8bc1dc" stroke="#8bc1dc"/><ellipse cx="348.53" cy="261.79" rx="9.52" ry="4.23" transform="rotate(-45 348.53 261.79)" fill="#3784bb" stroke="#3784bb"/><ellipse cx="383.19" cy="261.79" rx="9.26" ry="4.77" transform="rotate(-45 383.19 261.79)" fill="#4c99c6" stroke="#4c99c6"/><ellipse cx="400.52" cy="261.79" rx="4.23" ry="9.52" transform="rotate(-45 400.52 261.79)" fill="#c84440" stroke="#c84440"/><ellipse cx="435.18" cy="261.79" rx="7.69" ry="7.03" transform="rotate(-45 435.18 261.79)" fill="#e9f3f8" stroke="#e9f3f8"/><ellipse cx="452.51" cy="261.79" rx="8.10" ry="6.55" transform="rotate(-45 452.51 261.79)" fill="#cfe4ef" stroke="#cfe4ef"/><ellipse cx="469.84" cy="261.79" rx="7.47" ry="7.25" transform="rotate(-45 469.84 261.79)" fill="#f9fcfd" stroke="#f9fcfd"/><ellipse cx="279.21" cy="279.11" rx="10.42" ry="0.01" transform="rotate(-45 279.21 279.11)" fill="#053061" stroke="#053061"/><ellipse cx="296.54" cy="279.11" rx="10.15" ry="2.33" transform="rotate(-45 296.54 279.11)" fill="#134b87" stroke="#134b87"/><ellipse cx="313.87" cy="279.11" rx="10.15" ry="2.33" transform="rotate(-45 313.87 279.11)" fill="#134b87" stroke="#134b87"/><ellipse cx="331.20" cy="279.11" rx="8.36" ry="6.21" transform="rotate(-45 331.20 279.11)" fill="#b6d7e8" stroke="#b6d7e8"/><ellipse cx="348.53" cy="279.11" rx="10.10" ry="2.55" transform="rotate(-45 348.53 279.11)" fill="#16518e" stroke="#16518e"/><ellipse cx="365.86" cy="279.11" rx="7.65" ry="7.06" transform="rotate(-45 365.86 279.11)" fill="#eef5f9" stroke="#eef5f9"/><ellipse cx="383.19" cy="279.11" rx="9.96" ry="3.04" transform="rotate(-45 383.19 279.11)" fill="#1d5ea1" stroke="#1d5ea1"/><ellipse cx="400.52" cy="279.11" rx="2.44" ry="10.13" transform="rotate(-45 400.52 279.11)" fill="#8d0c25" stroke="#8d0c25"/><ellipse cx="435.18" cy="279.11" rx="8.00" ry="6.67" transform="rotate(-45 435.18 279.11)" fill="#d7e8f2" stroke="#d7e8f2"/><ellipse cx="452.51" cy="279.11" rx="8.03" ry="6.63" transform="rotate(-45 452.51 279.11)" fill="#d4e7f1" stroke="#d4e7f1"/><ellipse cx="469.84" cy="279.11" rx="7.79" ry="6.91" transform="rotate(-45 469.84 279.11)" fill="#e2eff6" stroke="#e2eff6"/><ellipse cx="296.54" cy="296.44" rx="10.42" ry="0.01" transform="rotate(-45 296.54 296.44)" fill="#053061" stroke="#053061"/><ellipse cx="313.87" cy="296.44" rx="10.42" ry="0.01" transform="rotate(-45 313.87 296.44)" fill="#053061" stroke="#053061"/><ellipse cx="331.20" cy="296.44" rx="7.72" ry="6.99" transform="rotate(-45 331.20 296.44)" fill="#e7f1f7" stroke="#e7f1f7"/><ellipse cx="348.53" cy="296.44" rx="10.39" ry="0.74" transform="rotate(-45 348.53 296.44)" fill="#063365" stroke="#063365"/><ellipse cx="365.86" cy="296.44" rx="8.46" ry="6.07" transform="rotate(-45 365.86 296.44)" fill="#acd2e6" stroke="#acd2e6"/><ellipse cx="383.19" cy="296.44" rx="10.28" ry="1.65" transform="rotate(-45 383.19 296.44)" fill="#0c3e74" stroke="#0c3e74"/><ellipse cx="400.52" cy="296.44" rx="0.74" ry="10.39" transform="rotate(-45 400.52 296.44)" fill="#6b0120" stroke="#6b0120"/><ellipse cx="417.85" cy="296.44" rx="7.76" ry="6.95" transform="rotate(-45 417.85 296.44)" fill="#e4f0f6" stroke="#e4f0f6"/><ellipse cx="435.18" cy="296.44" rx="8.23" ry="6.38" transform="rotate(-45 435.18 296.44)" fill="#c2deec" stroke="#c2deec"/><ellipse cx="452.51" cy="296.44" rx="8.00" ry="6.67" transform="rotate(-45 452.51 296.44)" fill="#d7e8f2" stroke="#d7e8f2"/><ellipse cx="469.84" cy="296.44" rx="7.93" ry="6.75" transform="rotate(-45 469.84 296.44)" fill="#dbebf3" stroke="#dbebf3"/><ellipse cx="313.87" cy="313.77" rx="10.42" ry="0.01" transform="rotate(-45 313.87 313.77)" fill="#053061" stroke="#053061"/><ellipse cx="331.20" cy="313.77" rx="7.72" ry="6.99" transform="rotate(-45 331.20 313.77)" fill="#e7f1f7" stroke="#e7f1f7"/><ellipse cx="348.53" cy="313.77" rx="10.39" ry="0.74" transform="rotate(-45 348.53 313.77)" fill="#063365" stroke="#063365"/><ellipse cx="365.86" cy="313.77" rx="8.46" ry="6.07" transform="rotate(-45 365.86 313.77)" fill="#acd2e6" stroke="#acd2e6"/><ellipse cx="383.19" cy="313.77" rx="10.28" ry="1.65" transform="rotate(-45 383.19 313.77)" fill="#0c3e74" stroke="#0c3e74"/><ellipse cx="400.52" cy="313.77" rx="0.74" ry="10.39" transform="rotate(-45 400.52 313.77)" fill="#6b0120" stroke="#6b0120"/><ellipse cx="417.85" cy="313.77" rx="7.76" ry="6.95" transform="rotate(-45 417.85 313.77)" fill="#e4f0f6" stroke="#e4f0f6"/><ellipse cx="435.18" cy="313.77" rx="8.23" ry="6.38" transform="rotate(-45 435.18 313.77)" fill="#c2deec" stroke="#c2deec"/><ellipse cx="452.51" cy="313.77" rx="8.00" ry="6.67" transform="rotate(-45 452.51 313.77)" fill="#d7e8f2" stroke="#d7e8f2"/><ellipse cx="469.84" cy="313.77" rx="7.93" ry="6.75" transform="rotate(-45 469.84 313.77)" fill="#dbebf3" stroke="#dbebf3"/><ellipse cx="331.20" cy="331.10" rx="10.42" ry="0.01" transform="rotate(-45 331.20 331.10)" fill="#053061" stroke="#053061"/><ellipse cx="348.53" cy="331.10" rx="7.65" ry="7.06" transform="rotate(-45 348.53 331.10)" fill="#eef5f9" stroke="#eef5f9"/><ellipse cx="365.86" cy="331.10" rx="5.94" ry="8.56" transform="rotate(-45 365.86 331.10)" fill="#f6b191" stroke="#f6b191"/><ellipse cx="400.52" cy="331.10" rx="7.06" ry="7.65" transform="rotate(-45 400.52 331.10)" fill="#fef0e7" stroke="#fef0e7"/><ellipse cx="417.85" cy="331.10" rx="5.66" ry="8.75" transform="rotate(-45 417.85 331.10)" fill="#f3a380" stroke="#f3a380"/><ellipse cx="452.51" cy="331.10" rx="7.72" ry="6.99" transform="rotate(-45 452.51 331.10)" fill="#e7f1f7" stroke="#e7f1f7"/><ellipse cx="469.84" cy="331.10" rx="6.21" ry="8.36" transform="rotate(-45 469.84 331.10)" fill="#f9c1a6" stroke="#f9c1a6"/><ellipse cx="348.53" cy="348.43" rx="10.42" ry="0.01" transform="rotate(-45 348.53 348.43)" fill="#053061" stroke="#053061"/><ellipse cx="365.86" cy="348.43" rx="8.46" ry="6.07" transform="rotate(-45 365.86 348.43)" fill="#acd2e6" stroke="#acd2e6"/><ellipse cx="383.19" cy="348.43" rx="10.34" ry="1.28" transform="rotate(-45 383.19 348.43)" fill="#09386c" stroke="#09386c"/><ellipse cx="400.52" cy="348.43" rx="0.01" ry="10.42" transform="rotate(-45 400.52 348.43)" fill="#67001f" stroke="#67001f"/><ellipse cx="417.85" cy="348.43" rx="7.76" ry="6.95" transform="rotate(-45 417.85 348.43)" fill="#e4f0f6" stroke="#e4f0f6"/><ellipse cx="435.18" cy="348.43" rx="8.23" ry="6.38" transform="rotate(-45 435.18 348.43)" fill="#c2deec" stroke="#c2deec"/><ellipse cx="452.51" cy="348.43" rx="7.97" ry="6.71" transform="rotate(-45 452.51 348.43)" fill="#d9e9f3" stroke="#d9e9f3"/><ellipse cx="469.84" cy="348.43" rx="8.00" ry="6.67" transform="rotate(-45 469.84 348.43)" fill="#d7e8f2" stroke="#d7e8f2"/><ellipse cx="365.86" cy="365.76" rx="10.42" ry="0.01" transform="rotate(-45 365.86 365.76)" fill="#053061" stroke="#053061"/><ellipse cx="383.19" cy="365.76" rx="8.49" ry="6.03" transform="rotate(-45 383.19 365.76)" fill="#a9d1e5" stroke="#a9d1e5"/><ellipse cx="400.52" cy="365.76" rx="6.07" ry="8.46" transform="rotate(-45 400.52 365.76)" fill="#f7b99b" stroke="#f7b99b"/><ellipse cx="417.85" cy="365.76" rx="8.33" ry="6.25" transform="rotate(-45 417.85 365.76)" fill="#b9d9e9" stroke="#b9d9e9"/><ellipse cx="435.18" cy="365.76" rx="8.03" ry="6.63" transform="rotate(-45 435.18 365.76)" fill="#d4e7f1" stroke="#d4e7f1"/><ellipse cx="469.84" cy="365.76" rx="7.79" ry="6.91" transform="rotate(-45 469.84 365.76)" fill="#e2eff6" stroke="#e2eff6"/><ellipse cx="383.19" cy="383.09" rx="10.42" ry="0.01" transform="rotate(-45 383.19 383.09)" fill="#053061" stroke="#053061"/><ellipse cx="400.52" cy="383.09" rx="1.28" ry="10.34" transform="rotate(-45 400.52 383.09)" fill="#720421" stroke="#720421"/><ellipse cx="417.85" cy="383.09" rx="8.00" ry="6.67" transform="rotate(-45 417.85 383.09)" fill="#d7e8f2" stroke="#d7e8f2"/><ellipse cx="435.18" cy="383.09" rx="8.27" ry="6.34" transform="rotate(-45 435.18 383.09)" fill="#bfdceb" stroke="#bfdceb"/><ellipse cx="452.51" cy="383.09" rx="7.90" ry="6.79" transform="rotate(-45 452.51 383.09)" fill="#ddecf4" stroke="#ddecf4"/><ellipse cx="469.84" cy="383.09" rx="8.07" ry="6.59" transform="rotate(-45 469.84 383.09)" fill="#d2e6f0" stroke="#d2e6f0"/><ellipse cx="400.52" cy="400.42" rx="10.42" ry="0.01" transform="rotate(-45 400.52 400.42)" fill="#053061" stroke="#053061"/><ellipse cx="417.85" cy="400.42" rx="6.95" ry="7.76" transform="rotate(-45 417.85 400.42)" fill="#feeadf" stroke="#feeadf"/><ellipse cx="435.18" cy="400.42" rx="6.38" ry="8.23" transform="rotate(-45 435.18 400.42)" fill="#faccb4" stroke="#faccb4"/><ellipse cx="452.51" cy="400.42" rx="6.71" ry="7.97" transform="rotate(-45 452.51 400.42)" fill="#fddfce" stroke="#fddfce"/><ellipse cx="469.84" cy="400.42" rx="6.67" ry="8.00" transform="rotate(-45 469.84 400.42)" fill="#fddecb" stroke="#fddecb"/><ellipse cx="417.85" cy="417.75" rx="10.42" ry="0.01" transform="rotate(-45 417.85 417.75)" fill="#053061" stroke="#053061"/><ellipse cx="435.18" cy="417.75" rx="8.56" ry="5.94" transform="rotate(-45 435.18 417.75)" fill="#a3cee3" stroke="#a3cee3"/><ellipse cx="469.84" cy="417.75" rx="7.40" ry="7.33" transform="rotate(-45 469.84 417.75)" fill="#fefeff" stroke="#fefeff"/><ellipse cx="435.18" cy="435.08" rx="10.42" ry="0.01" transform="rotate(-45 435.18 435.08)" fill="#053061" stroke="#053061"/><ellipse cx="452.51" cy="435.08" rx="7.58" ry="7.14" transform="rotate(-45 452.51 435.08)" fill="#f2f8fb" stroke="#f2f8fb"/><ellipse cx="469.84" cy="435.08" rx="7.14" ry="7.58" transform="rotate(-45 469.84 435.08)" fill="#fef3ed" stroke="#fef3ed"/><ellipse cx="452.51" cy="452.41" rx="10.42" ry="0.01" transform="rotate(-45 452.51 452.41)" fill="#053061" stroke="#053061"/><ellipse cx="469.84" cy="469.74" rx="10.42" ry="0.01" transform="rotate(-45 469.84 469.74)" fill="#053061" stroke="#053061"/></g>
<g font-size="5.6" font-weight="bold" text-anchor="middle" fill="#000" stroke="#000" stroke-width="0.12"><text x="71.26" y="73.18">1</text><text x="88.59" y="73.18">0.51</text><text x="105.92" y="73.18">0.52</text><text x="157.91" y="73.18">-0.18</text><text x="175.24" y="73.18">-0.15</text><text x="192.57" y="73.18">-0.32</text><text x="209.90" y="73.18">-0.32</text><text x="227.23" y="73.18">0.25</text><text x="244.56" y="73.18">-0.3</text><text x="261.89" y="73.18">-0.33</text><text x="279.21" y="73.18">-0.32</text><text x="296.54" y="73.18">-0.25</text><text x="313.87" y="73.18">-0.25</text><text x="331.20" y="73.18">-0.2</text><text x="348.53" y="73.18">-0.27</text><text x="383.19" y="73.18">-0.25</text><text x="400.52" y="73.18">0.27</text><text x="435.18" y="73.18">-0.04</text><text x="452.51" y="73.18">-0.09</text><text x="469.84" y="73.18">-0.05</text><text x="88.59" y="90.51">1</text><text x="105.92" y="90.51">0.78</text><text x="123.25" y="90.51">0.02</text><text x="140.58" y="90.51">-0.02</text><text x="157.91" y="90.51">-0.34</text><text x="175.24" y="90.51">-0.29</text><text x="192.57" y="90.51">-0.34</text><text x="209.90" y="90.51">-0.35</text><text x="227.23" y="90.51">0.37</text><text x="244.56" y="90.51">-0.36</text><text x="261.89" y="90.51">-0.35</text><text x="279.21" y="90.51">-0.39</text><text x="296.54" y="90.51">-0.37</text><text x="313.87" y="90.51">-0.37</text><text x="331.20" y="90.51">-0.23</text><text x="348.53" y="90.51">-0.39</text><text x="365.86" y="90.51">0.02</text><text x="383.19" y="90.51">-0.39</text><text x="400.52" y="90.51">0.39</text><text x="435.18" y="90.51">-0.12</text><text x="452.51" y="90.51">-0.15</text><text x="469.84" y="90.51">-0.04</text><text x="105.92" y="107.84">1</text><text x="123.25" y="107.84">0.05</text><text x="140.58" y="107.84">-0.03</text><text x="157.91" y="107.84">-0.36</text><text x="175.24" y="107.84">-0.3</text><text x="192.57" y="107.84">-0.36</text><text x="209.90" y="107.84">-0.37</text><text x="227.23" y="107.84">0.37</text><text x="244.56" y="107.84">-0.37</text><text x="261.89" y="107.84">-0.37</text><text x="279.21" y="107.84">-0.41</text><text x="296.54" y="107.84">-0.37</text><text x="313.87" y="107.84">-0.37</text><text x="331.20" y="107.84">-0.2</text><text x="348.53" y="107.84">-0.4</text><text x="365.86" y="107.84">0.03</text><text x="383.19" y="107.84">-0.41</text><text x="400.52" y="107.84">0.4</text><text x="435.18" y="107.84">-0.14</text><text x="452.51" y="107.84">-0.09</text><text x="469.84" y="107.84">-0.09</text><text x="123.25" y="125.17">1</text><text x="140.58" y="125.17">0.84</text><text x="157.91" y="125.17">-0.6</text><text x="175.24" y="125.17">-0.75</text><text x="192.57" y="125.17">0.13</text><text x="209.90" y="125.17">0.04</text><text x="227.23" y="125.17">0.44</text><text x="244.56" y="125.17">-0.11</text><text x="261.89" y="125.17">0.11</text><text x="279.21" y="125.17">-0.17</text><text x="296.54" y="125.17">-0.44</text><text x="313.87" y="125.17">-0.44</text><text x="331.20" y="125.17">0.64</text><text x="348.53" y="125.17">-0.46</text><text x="365.86" y="125.17">-0.84</text><text x="383.19" y="125.17">-0.53</text><text x="400.52" y="125.17">0.46</text><text x="417.85" y="125.17">-0.45</text><text x="435.18" y="125.17">-0.17</text><text x="469.84" y="125.17">-0.28</text><text x="140.58" y="142.50">1</text><text x="157.91" y="142.50">-0.33</text><text x="175.24" y="142.50">-0.63</text><text x="209.90" y="142.50">0.06</text><text x="227.23" y="142.50">0.32</text><text x="244.56" y="142.50">-0.06</text><text x="279.21" y="142.50">-0.08</text><text x="296.54" y="142.50">-0.32</text><text x="313.87" y="142.50">-0.32</text><text x="331.20" y="142.50">0.35</text><text x="348.53" y="142.50">-0.32</text><text x="365.86" y="142.50">-1</text><text x="383.19" y="142.50">-0.33</text><text x="400.52" y="142.50">0.32</text><text x="417.85" y="142.50">-0.28</text><text x="435.18" y="142.50">-0.19</text><text x="469.84" y="142.50">-0.12</text><text x="157.91" y="159.83">1</text><text x="175.24" y="159.83">0.86</text><text x="192.57" y="159.83">0.33</text><text x="209.90" y="159.83">0.41</text><text x="227.23" y="159.83">-0.78</text><text x="244.56" y="159.83">0.55</text><text x="261.89" y="159.83">0.36</text><text x="279.21" y="159.83">0.64</text><text x="296.54" y="159.83">0.78</text><text x="313.87" y="159.83">0.79</text><text x="348.53" y="159.83">0.82</text><text x="365.86" y="159.83">0.33</text><text x="383.19" y="159.83">0.92</text><text x="400.52" y="159.83">-0.82</text><text x="417.85" y="159.83">0.26</text><text x="435.18" y="159.83">0.22</text><text x="452.51" y="159.83">0.1</text><text x="469.84" y="159.83">0.23</text><text x="175.24" y="177.16">1</text><text x="192.57" y="177.16">0.38</text><text x="209.90" y="177.16">0.47</text><text x="227.23" y="177.16">-0.88</text><text x="244.56" y="177.16">0.63</text><text x="261.89" y="177.16">0.41</text><text x="279.21" y="177.16">0.68</text><text x="296.54" y="177.16">0.88</text><text x="313.87" y="177.16">0.88</text><text x="348.53" y="177.16">0.88</text><text x="365.86" y="177.16">0.63</text><text x="383.19" y="177.16">0.92</text><text x="400.52" y="177.16">-0.89</text><text x="417.85" y="177.16">0.27</text><text x="435.18" y="177.16">0.26</text><text x="452.51" y="177.16">0.12</text><text x="469.84" y="177.16">0.2</text><text x="192.57" y="194.48">1</text><text x="209.90" y="194.48">0.99</text><text x="227.23" y="194.48">-0.66</text><text x="244.56" y="194.48">0.93</text><text x="261.89" y="194.48">1</text><text x="279.21" y="194.48">0.95</text><text x="296.54" y="194.48">0.66</text><text x="313.87" y="194.48">0.66</text><text x="331.20" y="194.48">0.42</text><text x="348.53" y="194.48">0.64</text><text x="383.19" y="194.48">0.55</text><text x="400.52" y="194.48">-0.64</text><text x="435.18" y="194.48">0.09</text><text x="452.51" y="194.48">0.21</text><text x="469.84" y="194.48">0.01</text><text x="209.90" y="211.81">1</text><text x="227.23" y="211.81">-0.74</text><text x="244.56" y="211.81">0.97</text><text x="261.89" y="211.81">0.99</text><text x="279.21" y="211.81">0.94</text><text x="296.54" y="211.81">0.74</text><text x="313.87" y="211.81">0.74</text><text x="331.20" y="211.81">0.39</text><text x="348.53" y="211.81">0.72</text><text x="365.86" y="211.81">-0.06</text><text x="383.19" y="211.81">0.63</text><text x="400.52" y="211.81">-0.72</text><text x="435.18" y="211.81">0.12</text><text x="452.51" y="211.81">0.21</text><text x="469.84" y="211.81">0.04</text><text x="227.23" y="229.14">1</text><text x="244.56" y="229.14">-0.87</text><text x="261.89" y="229.14">-0.68</text><text x="279.21" y="229.14">-0.9</text><text x="296.54" y="229.14">-1</text><text x="313.87" y="229.14">-1</text><text x="331.20" y="229.14">-0.1</text><text x="348.53" y="229.14">-0.99</text><text x="365.86" y="229.14">-0.32</text><text x="383.19" y="229.14">-0.85</text><text x="400.52" y="229.14">0.99</text><text x="417.85" y="229.14">-0.11</text><text x="435.18" y="229.14">-0.25</text><text x="452.51" y="229.14">-0.18</text><text x="469.84" y="229.14">-0.16</text><text x="244.56" y="246.47">1</text><text x="261.89" y="246.47">0.94</text><text x="279.21" y="246.47">0.99</text><text x="296.54" y="246.47">0.87</text><text x="313.87" y="246.47">0.87</text><text x="331.20" y="246.47">0.31</text><text x="348.53" y="246.47">0.84</text><text x="365.86" y="246.47">0.06</text><text x="383.19" y="246.47">0.76</text><text x="400.52" y="246.47">-0.84</text><text x="435.18" y="246.47">0.16</text><text x="452.51" y="246.47">0.21</text><text x="469.84" y="246.47">0.09</text><text x="261.89" y="263.80">1</text><text x="279.21" y="263.80">0.91</text><text x="296.54" y="263.80">0.68</text><text x="313.87" y="263.80">0.68</text><text x="331.20" y="263.80">0.42</text><text x="348.53" y="263.80">0.67</text><text x="383.19" y="263.80">0.58</text><text x="400.52" y="263.80">-0.67</text><text x="435.18" y="263.80">0.09</text><text x="452.51" y="263.80">0.21</text><text x="469.84" y="263.80">0.03</text><text x="279.21" y="281.13">1</text><text x="296.54" y="281.13">0.9</text><text x="313.87" y="281.13">0.9</text><text x="331.20" y="281.13">0.29</text><text x="348.53" y="281.13">0.88</text><text x="365.86" y="281.13">0.08</text><text x="383.19" y="281.13">0.83</text><text x="400.52" y="281.13">-0.89</text><text x="435.18" y="281.13">0.18</text><text x="452.51" y="281.13">0.19</text><text x="469.84" y="281.13">0.12</text><text x="296.54" y="298.46">1</text><text x="313.87" y="298.46">1</text><text x="331.20" y="298.46">0.1</text><text x="348.53" y="298.46">0.99</text><text x="365.86" y="298.46">0.32</text><text x="383.19" y="298.46">0.95</text><text x="400.52" y="298.46">-0.99</text><text x="417.85" y="298.46">0.11</text><text x="435.18" y="298.46">0.25</text><text x="452.51" y="298.46">0.18</text><text x="469.84" y="298.46">0.16</text><text x="313.87" y="315.79">1</text><text x="331.20" y="315.79">0.1</text><text x="348.53" y="315.79">0.99</text><text x="365.86" y="315.79">0.32</text><text x="383.19" y="315.79">0.95</text><text x="400.52" y="315.79">-0.99</text><text x="417.85" y="315.79">0.11</text><text x="435.18" y="315.79">0.25</text><text x="452.51" y="315.79">0.18</text><text x="469.84" y="315.79">0.16</text><text x="331.20" y="333.12">1</text><text x="348.53" y="333.12">0.08</text><text x="365.86" y="333.12">-0.35</text><text x="400.52" y="333.12">-0.08</text><text x="417.85" y="333.12">-0.41</text><text x="452.51" y="333.12">0.1</text><text x="469.84" y="333.12">-0.29</text><text x="348.53" y="350.45">1</text><text x="365.86" y="350.45">0.32</text><text x="383.19" y="350.45">0.97</text><text x="400.52" y="350.45">-1</text><text x="417.85" y="350.45">0.11</text><text x="435.18" y="350.45">0.25</text><text x="452.51" y="350.45">0.17</text><text x="469.84" y="350.45">0.18</text><text x="365.86" y="367.78">1</text><text x="383.19" y="367.78">0.33</text><text x="400.52" y="367.78">-0.32</text><text x="417.85" y="367.78">0.28</text><text x="435.18" y="367.78">0.19</text><text x="469.84" y="367.78">0.12</text><text x="383.19" y="385.11">1</text><text x="400.52" y="385.11">-0.97</text><text x="417.85" y="385.11">0.18</text><text x="435.18" y="385.11">0.26</text><text x="452.51" y="385.11">0.15</text><text x="469.84" y="385.11">0.2</text><text x="400.52" y="402.43">1</text><text x="417.85" y="402.43">-0.11</text><text x="435.18" y="402.43">-0.25</text><text x="452.51" y="402.43">-0.17</text><text x="469.84" y="402.43">-0.18</text><text x="417.85" y="419.76">1</text><text x="435.18" y="419.76">0.35</text><text x="469.84" y="419.76">0.01</text><text x="435.18" y="437.09">1</text><text x="452.51" y="437.09">0.06</text><text x="469.84" y="437.09">-0.06</text><text x="452.51" y="454.42">1</text><text x="469.84" y="471.75">1</text></g>
<g font-size="8.05" fill="#000" stroke="#000" stroke-width="0.2"><text font-size="7.9" transform="translate(72.86,57.2) rotate(-90)">EC_dS_0_30</text><text x="57.10" y="73.06" text-anchor="end">EC_dS_0_30</text><text font-size="7.9" transform="translate(90.19,57.2) rotate(-90)">EC_dS_30_6</text><text x="74.43" y="90.39" text-anchor="end">EC_dS_30_6</text><text font-size="7.9" transform="translate(107.52,57.2) rotate(-90)">EC_dS_60_9</text><text x="91.76" y="107.72" text-anchor="end">EC_dS_60_9</text><text font-size="7.9" transform="translate(124.85,57.2) rotate(-90)">INR</text><text x="109.09" y="125.05" text-anchor="end">INR</text><text font-size="7.9" transform="translate(142.18,57.2) rotate(-90)">NDMI</text><text x="126.42" y="142.38" text-anchor="end">NDMI</text><text font-size="7.9" transform="translate(159.51,57.2) rotate(-90)">NDVI</text><text x="143.75" y="159.71" text-anchor="end">NDVI</text><text font-size="7.9" transform="translate(176.84,57.2) rotate(-90)">RONR</text><text x="161.07" y="177.04" text-anchor="end">RONR</text><text font-size="7.9" transform="translate(194.17,57.2) rotate(-90)">SAL_IND_1</text><text x="178.40" y="194.37" text-anchor="end">SAL_IND_1</text><text font-size="7.9" transform="translate(211.50,57.2) rotate(-90)">SAL_IND_2</text><text x="195.73" y="211.70" text-anchor="end">SAL_IND_2</text><text font-size="7.9" transform="translate(228.83,57.2) rotate(-90)">SAL_IND_3</text><text x="213.06" y="229.03" text-anchor="end">SAL_IND_3</text><text font-size="7.9" transform="translate(246.16,57.2) rotate(-90)">SAL_IND_4</text><text x="230.39" y="246.36" text-anchor="end">SAL_IND_4</text><text font-size="7.9" transform="translate(263.49,57.2) rotate(-90)">SAL_IND_5</text><text x="247.72" y="263.69" text-anchor="end">SAL_IND_5</text><text font-size="7.9" transform="translate(280.81,57.2) rotate(-90)">SAL_IND_6</text><text x="265.05" y="281.01" text-anchor="end">SAL_IND_6</text><text font-size="7.9" transform="translate(298.14,57.2) rotate(-90)">SAT_IND</text><text x="282.38" y="298.34" text-anchor="end">SAT_IND</text><text font-size="7.9" transform="translate(315.47,57.2) rotate(-90)">TSGSI</text><text x="299.71" y="315.67" text-anchor="end">TSGSI</text><text font-size="7.9" transform="translate(332.80,57.2) rotate(-90)">CLNR</text><text x="317.04" y="333.00" text-anchor="end">CLNR</text><text font-size="7.9" transform="translate(350.13,57.2) rotate(-90)">CNR</text><text x="334.37" y="350.33" text-anchor="end">CNR</text><text font-size="7.9" transform="translate(367.46,57.2) rotate(-90)">FNR</text><text x="351.70" y="367.66" text-anchor="end">FNR</text><text font-size="7.9" transform="translate(384.79,57.2) rotate(-90)">GNDVI</text><text x="369.02" y="384.99" text-anchor="end">GNDVI</text><text font-size="7.9" transform="translate(402.12,57.2) rotate(-90)">GRVI</text><text x="386.35" y="402.32" text-anchor="end">GRVI</text><text font-size="7.9" transform="translate(419.45,57.2) rotate(-90)">AVG_HH_dB</text><text x="403.68" y="419.65" text-anchor="end">AVG_HH_dB</text><text font-size="7.9" transform="translate(436.78,57.2) rotate(-90)">AVG_HV_dB</text><text x="421.01" y="436.98" text-anchor="end">AVG_HV_dB</text><text font-size="7.9" transform="translate(454.11,57.2) rotate(-90)">DEM</text><text x="438.34" y="454.31" text-anchor="end">DEM</text><text font-size="7.9" transform="translate(471.44,57.2) rotate(-90)">slope</text><text x="455.67" y="471.64" text-anchor="end">slope</text></g>
<defs><linearGradient id="cb" x1="0" y1="0" x2="0" y2="1"><stop offset="0%" stop-color="#053061"/><stop offset="10%" stop-color="#2166AC"/><stop offset="20%" stop-color="#4393C3"/><stop offset="30%" stop-color="#92C5DE"/><stop offset="40%" stop-color="#D1E5F0"/><stop offset="50%" stop-color="#FFFFFF"/><stop offset="60%" stop-color="#FDDBC7"/><stop offset="70%" stop-color="#F4A582"/><stop offset="80%" stop-color="#D6604D"/><stop offset="90%" stop-color="#B2182B"/><stop offset="100%" stop-color="#67001F"/></linearGradient></defs>
<rect x="486.9" y="62.5" width="15.90" height="415.90" fill="url(#cb)" stroke="#222" stroke-width="0.7"/>
<g stroke="#222" stroke-width="0.7"><line x1="502.8" x2="506.0" y1="62.50" y2="62.50"/><line x1="502.8" x2="506.0" y1="104.09" y2="104.09"/><line x1="502.8" x2="506.0" y1="145.68" y2="145.68"/><line x1="502.8" x2="506.0" y1="187.27" y2="187.27"/><line x1="502.8" x2="506.0" y1="228.86" y2="228.86"/><line x1="502.8" x2="506.0" y1="270.45" y2="270.45"/><line x1="502.8" x2="506.0" y1="312.04" y2="312.04"/><line x1="502.8" x2="506.0" y1="353.63" y2="353.63"/><line x1="502.8" x2="506.0" y1="395.22" y2="395.22"/><line x1="502.8" x2="506.0" y1="436.81" y2="436.81"/><line x1="502.8" x2="506.0" y1="478.40" y2="478.40"/></g>
<g font-size="8.5" text-anchor="middle" fill="#000"><text x="522.3" y="66.16">1</text><text x="522.3" y="107.75">0.8</text><text x="522.3" y="149.34">0.6</text><text x="522.3" y="190.93">0.4</text><text x="522.3" y="232.52">0.2</text><text x="522.3" y="274.11">0</text><text x="522.3" y="315.70">-0.2</text><text x="522.3" y="357.29">-0.4</text><text x="522.3" y="398.88">-0.6</text><text x="522.3" y="440.47">-0.8</text><text x="522.3" y="482.06">-1</text></g>
</svg>
</body></html>
